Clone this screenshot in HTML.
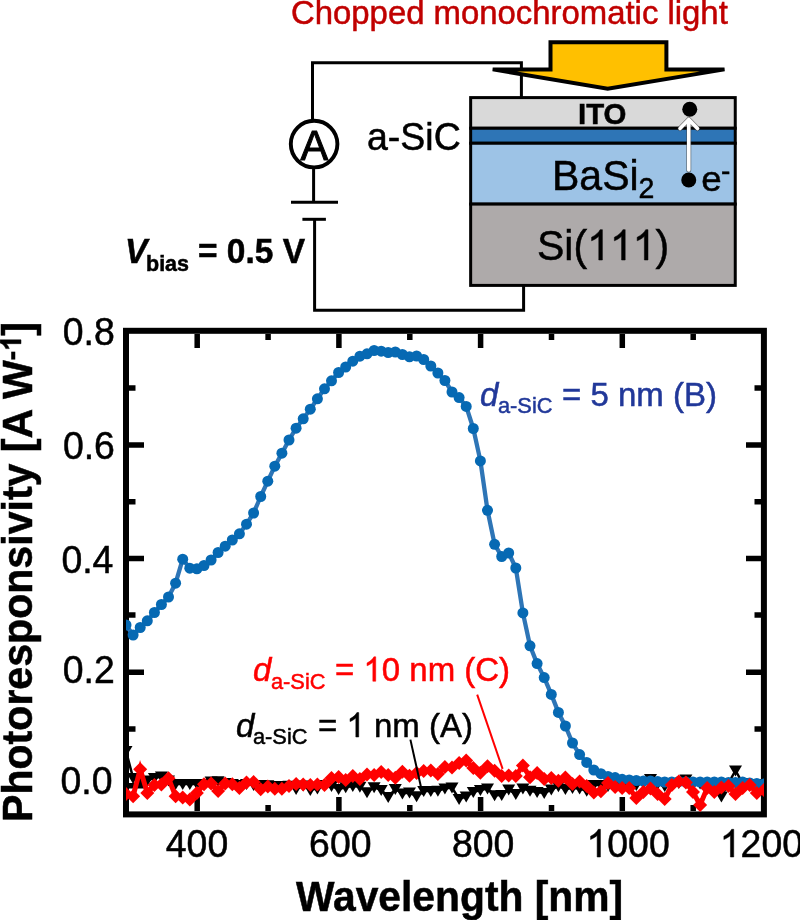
<!DOCTYPE html>
<html><head><meta charset="utf-8">
<style>
html,body{margin:0;padding:0;background:#fff;}
body{width:800px;height:920px;overflow:hidden;}
svg{display:block;will-change:transform;}
text{font-family:"Liberation Sans",sans-serif;stroke-width:0.5px;}
</style></head>
<body>
<svg width="800" height="920" viewBox="0 0 800 920" stroke-width="0">
<text id="t_title" transform="translate(291 24.4) scale(1 1.03)" font-size="32.9" fill="#C00000" stroke="#C00000">Chopped monochromatic light</text>

<g id="g_circuit">
<g fill="none" stroke="#000" stroke-width="3">
<path d="M312.5 119 V62.7 H521.4 V97"/>
<path d="M313.6 169 V202.3"/>
<path d="M291 202.3 H338"/>
<path d="M302.4 219.3 H325.9"/>
<path d="M314.6 219.3 V310.25 H523.6 V285"/>
</g>
<circle cx="314.1" cy="144.1" r="23.3" fill="none" stroke="#000" stroke-width="3.9"/>
</g>
<text id="t_A" transform="translate(314.25 159.5) scale(1 1.03)" font-size="41.5" text-anchor="middle" stroke="#000" style="stroke-width:1px">A</text>
<text id="t_asic" transform="translate(367 149.6) scale(1 1.03)" font-size="37.5" stroke="#000">a-SiC</text>

<g id="t_vbias">
<text transform="translate(125 263.1) scale(1 1.03)" font-size="33.5" font-weight="bold" font-style="italic" stroke="#000">V</text>
<text transform="translate(146 270.6) scale(1 1.03)" font-size="21.5" font-weight="bold" stroke="#000">bias</text>
<text transform="translate(198 263.1) scale(1 1.03)" font-size="33.5" font-weight="bold" stroke="#000">= 0.5 V</text>
</g>

<g id="g_device">
<rect x="470.65" y="97.6" width="264.6" height="30.65" fill="#D9D9D9" stroke="#000" stroke-width="3"/>
<rect x="470.65" y="128.25" width="264.6" height="15" fill="#2E75B6" stroke="#000" stroke-width="3"/>
<rect x="470.65" y="143.25" width="264.6" height="60.85" fill="#9DC3E6" stroke="#000" stroke-width="3"/>
<rect x="470.65" y="204.1" width="264.6" height="81.3" fill="#AEAAAA" stroke="#000" stroke-width="3"/>
<circle cx="689.75" cy="109.2" r="7.5" fill="#000"/>
<circle cx="688.75" cy="180" r="7.5" fill="#000"/>
<path d="M688.75 170 V121 M680 128.5 L688.75 119.5 L697.5 128.5" fill="none" stroke="#333" stroke-width="5" stroke-linecap="round" stroke-linejoin="round" opacity="0.6"/>
<path d="M688.75 170 V121 M680 128.5 L688.75 119.5 L697.5 128.5" fill="none" stroke="#fff" stroke-width="3.6" stroke-linecap="round" stroke-linejoin="round"/>
</g>
<text id="t_ito" transform="translate(578 124) scale(1 1.03)" font-size="29.4" font-weight="bold" stroke="#000">ITO</text>
<text id="t_basi" transform="translate(552 189.5) scale(1 1.03)" font-size="41" stroke="#000">BaSi<tspan font-size="28.5" dy="8.5">2</tspan></text>
<text id="t_si" transform="translate(537 260) scale(1 1.03)" font-size="41" stroke="#000">Si(<tspan style="fill:none;stroke:none">1</tspan><tspan style="fill:none;stroke:none">1</tspan><tspan style="fill:none;stroke:none">1</tspan>)</text>
<g id="t_e"><text transform="translate(701.2 191) scale(1.05 1.0)" font-size="35" stroke="#000">e</text><text id="t_minus" transform="translate(721 180.2)" font-size="28" stroke="#000">-</text></g>

<path id="g_arrow" d="M550.5 42.3 H666.4 V69.4 H724.5 L607.7 88.7 L492.7 69.4 H550.5 Z" fill="#FFC000" stroke="#000" stroke-width="4" stroke-linejoin="miter" stroke-miterlimit="10"/>

<g id="g_frame">
<rect x="126" y="330.8" width="637.9" height="483.6" fill="none" stroke="#000" stroke-width="6"/>
<g stroke="#000" stroke-width="5.5">
<path d="M197.2 811 V797 M268.1 811 V805 M338.9 811 V797 M409.8 811 V805 M480.6 811 V797 M551.5 811 V805 M622.3 811 V797 M693.2 811 V805"/>
<path d="M197.2 334 V348 M268.1 334 V340 M338.9 334 V348 M409.8 334 V340 M480.6 334 V348 M551.5 334 V340 M622.3 334 V348 M693.2 334 V340"/>
<path d="M129 785.8 H144 M129 729 H135.5 M129 672.3 H144 M129 615.1 H135.5 M129 558.5 H144 M129 501.7 H135.5 M129 444.9 H144 M129 388 H135.5"/>
<path d="M761 785.8 H746 M761 729 H754.5 M761 672.3 H746 M761 615.1 H754.5 M761 558.5 H746 M761 501.7 H754.5 M761 444.9 H746 M761 388 H754.5"/>
</g>
</g>
<defs><clipPath id="pc"><rect x="126" y="331" width="638" height="483"/></clipPath></defs>
<g id="g_data" clip-path="url(#pc)">
<path d="M126 751 L133.1 778 L140.2 781 L147.3 780.4 L154.4 778 L161.4 776.5 L168.5 780.4 L175.6 784 L182.7 784 L189.8 784 L196.9 784 L204 784 L211.1 781.6 L218.1 781.3 L225.2 783 L232.3 784 L239.4 785 L246.5 784 L253.6 785 L260.7 785 L267.8 785.2 L274.8 786 L281.9 786 L289 785.8 L296.1 789 L303.2 785.6 L310.3 790 L317.4 788.4 L324.5 785 L331.5 786 L338.6 789 L345.7 787.2 L352.8 786 L359.9 786.7 L367 792.3 L374.1 787.2 L381.2 790 L388.2 797 L395.3 789 L402.4 793.5 L409.5 792.4 L416.6 796.3 L423.7 791 L430.8 791 L437.9 790.7 L444.9 788.4 L452 787.6 L459.1 799 L466.2 796.4 L473.3 792 L480.4 790 L487.5 788.5 L494.6 795.2 L501.7 795 L508.7 789.6 L515.8 794 L522.9 788.5 L530 790.8 L537.1 792 L544.2 793 L551.3 789.6 L558.4 786.2 L565.4 789 L572.5 788 L579.6 788.5 L586.7 790.8 L593.8 785 L600.9 785 L608 786 L615.1 786 L622.1 785 L629.2 786 L636.3 785 L643.4 783 L650.5 779 L657.6 784 L664.7 786 L671.8 784 L678.8 783 L685.9 779.5 L693 783.5 L700.1 783.5 L707.2 783.5 L714.3 783.5 L721.4 796.5 L728.5 783 L735.5 770.5 L742.6 783 L749.7 784 L756.8 784 L763.9 784" fill="none" stroke="#000" stroke-width="2.5" stroke-linejoin="round"/>
<g fill="#000"><path d="M119.5 746h13l-6.5 11z"/><path d="M126.6 773h13l-6.5 11z"/><path d="M133.7 776h13l-6.5 11z"/><path d="M140.8 775.4h13l-6.5 11z"/><path d="M147.9 773h13l-6.5 11z"/><path d="M154.9 771.5h13l-6.5 11z"/><path d="M162 775.4h13l-6.5 11z"/><path d="M169.1 779h13l-6.5 11z"/><path d="M176.2 779h13l-6.5 11z"/><path d="M183.3 779h13l-6.5 11z"/><path d="M190.4 779h13l-6.5 11z"/><path d="M197.5 779h13l-6.5 11z"/><path d="M204.6 776.6h13l-6.5 11z"/><path d="M211.6 776.3h13l-6.5 11z"/><path d="M218.7 778h13l-6.5 11z"/><path d="M225.8 779h13l-6.5 11z"/><path d="M232.9 780h13l-6.5 11z"/><path d="M240 779h13l-6.5 11z"/><path d="M247.1 780h13l-6.5 11z"/><path d="M254.2 780h13l-6.5 11z"/><path d="M261.3 780.3h13l-6.5 11z"/><path d="M268.3 781h13l-6.5 11z"/><path d="M275.4 781h13l-6.5 11z"/><path d="M282.5 780.8h13l-6.5 11z"/><path d="M289.6 784h13l-6.5 11z"/><path d="M296.7 780.6h13l-6.5 11z"/><path d="M303.8 785h13l-6.5 11z"/><path d="M310.9 783.4h13l-6.5 11z"/><path d="M318 780h13l-6.5 11z"/><path d="M325 781h13l-6.5 11z"/><path d="M332.1 784h13l-6.5 11z"/><path d="M339.2 782.3h13l-6.5 11z"/><path d="M346.3 781h13l-6.5 11z"/><path d="M353.4 781.8h13l-6.5 11z"/><path d="M360.5 787.3h13l-6.5 11z"/><path d="M367.6 782.3h13l-6.5 11z"/><path d="M374.7 785h13l-6.5 11z"/><path d="M381.7 792h13l-6.5 11z"/><path d="M388.8 784h13l-6.5 11z"/><path d="M395.9 788.5h13l-6.5 11z"/><path d="M403 787.4h13l-6.5 11z"/><path d="M410.1 791.3h13l-6.5 11z"/><path d="M417.2 786h13l-6.5 11z"/><path d="M424.3 786h13l-6.5 11z"/><path d="M431.4 785.8h13l-6.5 11z"/><path d="M438.4 783.4h13l-6.5 11z"/><path d="M445.5 782.6h13l-6.5 11z"/><path d="M452.6 794h13l-6.5 11z"/><path d="M459.7 791.4h13l-6.5 11z"/><path d="M466.8 787h13l-6.5 11z"/><path d="M473.9 785h13l-6.5 11z"/><path d="M481 783.5h13l-6.5 11z"/><path d="M488.1 790.3h13l-6.5 11z"/><path d="M495.2 790h13l-6.5 11z"/><path d="M502.2 784.6h13l-6.5 11z"/><path d="M509.3 789h13l-6.5 11z"/><path d="M516.4 783.5h13l-6.5 11z"/><path d="M523.5 785.8h13l-6.5 11z"/><path d="M530.6 787h13l-6.5 11z"/><path d="M537.7 788h13l-6.5 11z"/><path d="M544.8 784.6h13l-6.5 11z"/><path d="M551.9 781.3h13l-6.5 11z"/><path d="M558.9 784h13l-6.5 11z"/><path d="M566 783h13l-6.5 11z"/><path d="M573.1 783.5h13l-6.5 11z"/><path d="M580.2 785.8h13l-6.5 11z"/><path d="M587.3 780h13l-6.5 11z"/><path d="M594.4 780h13l-6.5 11z"/><path d="M601.5 781h13l-6.5 11z"/><path d="M608.6 781h13l-6.5 11z"/><path d="M615.6 780h13l-6.5 11z"/><path d="M622.7 781h13l-6.5 11z"/><path d="M629.8 780h13l-6.5 11z"/><path d="M636.9 778h13l-6.5 11z"/><path d="M644 774h13l-6.5 11z"/><path d="M651.1 779h13l-6.5 11z"/><path d="M658.2 781h13l-6.5 11z"/><path d="M665.3 779h13l-6.5 11z"/><path d="M672.3 778h13l-6.5 11z"/><path d="M679.4 774.5h13l-6.5 11z"/><path d="M686.5 778.5h13l-6.5 11z"/><path d="M693.6 778.5h13l-6.5 11z"/><path d="M700.7 778.5h13l-6.5 11z"/><path d="M707.8 778.5h13l-6.5 11z"/><path d="M714.9 791.5h13l-6.5 11z"/><path d="M722 778h13l-6.5 11z"/><path d="M729 765.5h13l-6.5 11z"/><path d="M736.1 778h13l-6.5 11z"/><path d="M743.2 779h13l-6.5 11z"/><path d="M750.3 779h13l-6.5 11z"/><path d="M757.4 779h13l-6.5 11z"/></g>
<path d="M126 625 L133.1 635 L140.2 627.5 L147.3 620.8 L154.4 612.5 L161.4 604.5 L168.5 597 L175.6 583.2 L182.7 559.2 L189.8 568.2 L196.9 568.8 L204 565.5 L211.1 560 L218.1 552.5 L225.2 546.2 L232.3 540 L239.4 533.8 L246.5 524.2 L253.6 513 L260.7 496.5 L267.8 481.2 L274.8 466.2 L281.9 453.2 L289 440 L296.1 428.2 L303.2 418.8 L310.3 409.2 L317.4 398.8 L324.5 388.8 L331.5 380.8 L338.6 372.5 L345.7 367 L352.8 361.2 L359.9 356.2 L367 353.8 L374.1 350.5 L381.2 351.2 L388.2 352.5 L395.3 352 L402.4 354.5 L409.5 356.8 L416.6 356 L423.7 359.5 L430.8 366 L437.9 373 L444.9 380.5 L452 392 L459.1 397.6 L466.2 406.4 L473.3 428.5 L480.4 460.9 L487.5 510.3 L494.6 544.3 L501.7 556.5 L508.7 553 L515.8 568 L522.9 612.9 L530 645.8 L537.1 663.6 L544.2 677.6 L551.3 694.4 L558.4 712.4 L565.4 726 L572.5 743 L579.6 754.6 L586.7 762.4 L593.8 770 L600.9 773.7 L608 776.5 L615.1 777.6 L622.1 779.3 L629.2 779.9 L636.3 780.5 L643.4 781 L650.5 781 L657.6 781.5 L664.7 782 L671.8 782 L678.8 781.5 L685.9 782 L693 782 L700.1 782 L707.2 782 L714.3 782 L721.4 782 L728.5 782.5 L735.5 782.5 L742.6 782 L749.7 783 L756.8 783.5 L763.9 784" fill="none" stroke="#2E75B6" stroke-width="4.3" stroke-linejoin="round"/>
<g fill="#0669B3"><circle cx="126" cy="625" r="5.5"/><circle cx="133.1" cy="635" r="5.5"/><circle cx="140.2" cy="627.5" r="5.5"/><circle cx="147.3" cy="620.8" r="5.5"/><circle cx="154.4" cy="612.5" r="5.5"/><circle cx="161.4" cy="604.5" r="5.5"/><circle cx="168.5" cy="597" r="5.5"/><circle cx="175.6" cy="583.2" r="5.5"/><circle cx="182.7" cy="559.2" r="5.5"/><circle cx="189.8" cy="568.2" r="5.5"/><circle cx="196.9" cy="568.8" r="5.5"/><circle cx="204" cy="565.5" r="5.5"/><circle cx="211.1" cy="560" r="5.5"/><circle cx="218.1" cy="552.5" r="5.5"/><circle cx="225.2" cy="546.2" r="5.5"/><circle cx="232.3" cy="540" r="5.5"/><circle cx="239.4" cy="533.8" r="5.5"/><circle cx="246.5" cy="524.2" r="5.5"/><circle cx="253.6" cy="513" r="5.5"/><circle cx="260.7" cy="496.5" r="5.5"/><circle cx="267.8" cy="481.2" r="5.5"/><circle cx="274.8" cy="466.2" r="5.5"/><circle cx="281.9" cy="453.2" r="5.5"/><circle cx="289" cy="440" r="5.5"/><circle cx="296.1" cy="428.2" r="5.5"/><circle cx="303.2" cy="418.8" r="5.5"/><circle cx="310.3" cy="409.2" r="5.5"/><circle cx="317.4" cy="398.8" r="5.5"/><circle cx="324.5" cy="388.8" r="5.5"/><circle cx="331.5" cy="380.8" r="5.5"/><circle cx="338.6" cy="372.5" r="5.5"/><circle cx="345.7" cy="367" r="5.5"/><circle cx="352.8" cy="361.2" r="5.5"/><circle cx="359.9" cy="356.2" r="5.5"/><circle cx="367" cy="353.8" r="5.5"/><circle cx="374.1" cy="350.5" r="5.5"/><circle cx="381.2" cy="351.2" r="5.5"/><circle cx="388.2" cy="352.5" r="5.5"/><circle cx="395.3" cy="352" r="5.5"/><circle cx="402.4" cy="354.5" r="5.5"/><circle cx="409.5" cy="356.8" r="5.5"/><circle cx="416.6" cy="356" r="5.5"/><circle cx="423.7" cy="359.5" r="5.5"/><circle cx="430.8" cy="366" r="5.5"/><circle cx="437.9" cy="373" r="5.5"/><circle cx="444.9" cy="380.5" r="5.5"/><circle cx="452" cy="392" r="5.5"/><circle cx="459.1" cy="397.6" r="5.5"/><circle cx="466.2" cy="406.4" r="5.5"/><circle cx="473.3" cy="428.5" r="5.5"/><circle cx="480.4" cy="460.9" r="5.5"/><circle cx="487.5" cy="510.3" r="5.5"/><circle cx="494.6" cy="544.3" r="5.5"/><circle cx="501.7" cy="556.5" r="5.5"/><circle cx="508.7" cy="553" r="5.5"/><circle cx="515.8" cy="568" r="5.5"/><circle cx="522.9" cy="612.9" r="5.5"/><circle cx="530" cy="645.8" r="5.5"/><circle cx="537.1" cy="663.6" r="5.5"/><circle cx="544.2" cy="677.6" r="5.5"/><circle cx="551.3" cy="694.4" r="5.5"/><circle cx="558.4" cy="712.4" r="5.5"/><circle cx="565.4" cy="726" r="5.5"/><circle cx="572.5" cy="743" r="5.5"/><circle cx="579.6" cy="754.6" r="5.5"/><circle cx="586.7" cy="762.4" r="5.5"/><circle cx="593.8" cy="770" r="5.5"/><circle cx="600.9" cy="773.7" r="5.5"/><circle cx="608" cy="776.5" r="5.5"/><circle cx="615.1" cy="777.6" r="5.5"/><circle cx="622.1" cy="779.3" r="5.5"/><circle cx="629.2" cy="779.9" r="5.5"/><circle cx="636.3" cy="780.5" r="5.5"/><circle cx="643.4" cy="781" r="5.5"/><circle cx="650.5" cy="781" r="5.5"/><circle cx="657.6" cy="781.5" r="5.5"/><circle cx="664.7" cy="782" r="5.5"/><circle cx="671.8" cy="782" r="5.5"/><circle cx="678.8" cy="781.5" r="5.5"/><circle cx="685.9" cy="782" r="5.5"/><circle cx="693" cy="782" r="5.5"/><circle cx="700.1" cy="782" r="5.5"/><circle cx="707.2" cy="782" r="5.5"/><circle cx="714.3" cy="782" r="5.5"/><circle cx="721.4" cy="782" r="5.5"/><circle cx="728.5" cy="782.5" r="5.5"/><circle cx="735.5" cy="782.5" r="5.5"/><circle cx="742.6" cy="782" r="5.5"/><circle cx="749.7" cy="783" r="5.5"/><circle cx="756.8" cy="783.5" r="5.5"/><circle cx="763.9" cy="784" r="5.5"/></g>
<path d="M126 794 L133.1 796.2 L140.2 769.2 L147.3 792.9 L154.4 785 L161.4 784.4 L168.5 778.2 L175.6 796.2 L182.7 797.4 L189.8 799.6 L196.9 792.9 L204 784.3 L211.1 783.5 L218.1 791 L225.2 783.6 L232.3 784.2 L239.4 788.1 L246.5 782.5 L253.6 782 L260.7 789.2 L267.8 786.4 L274.8 788.7 L281.9 788.7 L289 786 L296.1 784 L303.2 784.6 L310.3 785 L317.4 784.6 L324.5 785 L331.5 778 L338.6 777 L345.7 780 L352.8 776 L359.9 779 L367 774.5 L374.1 775 L381.2 772 L388.2 775 L395.3 777.8 L402.4 771.8 L409.5 775.7 L416.6 773 L423.7 771 L430.8 770.6 L437.9 774 L444.9 767 L452 767.6 L459.1 763 L466.2 760.6 L473.3 768 L480.4 772.8 L487.5 766.2 L494.6 770.7 L501.7 776 L508.7 775.6 L515.8 776 L522.9 765.6 L530 777.2 L537.1 772.9 L544.2 779 L551.3 778 L558.4 780.8 L565.4 777.4 L572.5 784 L579.6 781.4 L586.7 786 L593.8 792.4 L600.9 791.3 L608 783 L615.1 787 L622.1 788 L629.2 788 L636.3 798 L643.4 792 L650.5 788.5 L657.6 794 L664.7 799 L671.8 785 L678.8 781.5 L685.9 782.5 L693 792 L700.1 805 L707.2 788 L714.3 792 L721.4 787.5 L728.5 786 L735.5 794 L742.6 788 L749.7 785 L756.8 793 L763.9 790" fill="none" stroke="#FF0000" stroke-width="5" stroke-linejoin="miter"/>
<g fill="#FF0000"><path d="M126 787l7 7l-7 7l-7 -7z"/><path d="M133.1 789.2l7 7l-7 7l-7 -7z"/><path d="M140.2 762.2l7 7l-7 7l-7 -7z"/><path d="M147.3 785.9l7 7l-7 7l-7 -7z"/><path d="M154.4 778l7 7l-7 7l-7 -7z"/><path d="M161.4 777.4l7 7l-7 7l-7 -7z"/><path d="M168.5 771.2l7 7l-7 7l-7 -7z"/><path d="M175.6 789.2l7 7l-7 7l-7 -7z"/><path d="M182.7 790.4l7 7l-7 7l-7 -7z"/><path d="M189.8 792.6l7 7l-7 7l-7 -7z"/><path d="M196.9 785.9l7 7l-7 7l-7 -7z"/><path d="M204 777.3l7 7l-7 7l-7 -7z"/><path d="M211.1 776.5l7 7l-7 7l-7 -7z"/><path d="M218.1 784l7 7l-7 7l-7 -7z"/><path d="M225.2 776.6l7 7l-7 7l-7 -7z"/><path d="M232.3 777.2l7 7l-7 7l-7 -7z"/><path d="M239.4 781.1l7 7l-7 7l-7 -7z"/><path d="M246.5 775.5l7 7l-7 7l-7 -7z"/><path d="M253.6 775l7 7l-7 7l-7 -7z"/><path d="M260.7 782.2l7 7l-7 7l-7 -7z"/><path d="M267.8 779.4l7 7l-7 7l-7 -7z"/><path d="M274.8 781.7l7 7l-7 7l-7 -7z"/><path d="M281.9 781.7l7 7l-7 7l-7 -7z"/><path d="M289 779l7 7l-7 7l-7 -7z"/><path d="M296.1 777l7 7l-7 7l-7 -7z"/><path d="M303.2 777.6l7 7l-7 7l-7 -7z"/><path d="M310.3 778l7 7l-7 7l-7 -7z"/><path d="M317.4 777.6l7 7l-7 7l-7 -7z"/><path d="M324.5 778l7 7l-7 7l-7 -7z"/><path d="M331.5 771l7 7l-7 7l-7 -7z"/><path d="M338.6 770l7 7l-7 7l-7 -7z"/><path d="M345.7 773l7 7l-7 7l-7 -7z"/><path d="M352.8 769l7 7l-7 7l-7 -7z"/><path d="M359.9 772l7 7l-7 7l-7 -7z"/><path d="M367 767.5l7 7l-7 7l-7 -7z"/><path d="M374.1 768l7 7l-7 7l-7 -7z"/><path d="M381.2 765l7 7l-7 7l-7 -7z"/><path d="M388.2 768l7 7l-7 7l-7 -7z"/><path d="M395.3 770.8l7 7l-7 7l-7 -7z"/><path d="M402.4 764.8l7 7l-7 7l-7 -7z"/><path d="M409.5 768.7l7 7l-7 7l-7 -7z"/><path d="M416.6 766l7 7l-7 7l-7 -7z"/><path d="M423.7 764l7 7l-7 7l-7 -7z"/><path d="M430.8 763.6l7 7l-7 7l-7 -7z"/><path d="M437.9 767l7 7l-7 7l-7 -7z"/><path d="M444.9 760l7 7l-7 7l-7 -7z"/><path d="M452 760.6l7 7l-7 7l-7 -7z"/><path d="M459.1 756l7 7l-7 7l-7 -7z"/><path d="M466.2 753.6l7 7l-7 7l-7 -7z"/><path d="M473.3 761l7 7l-7 7l-7 -7z"/><path d="M480.4 765.8l7 7l-7 7l-7 -7z"/><path d="M487.5 759.2l7 7l-7 7l-7 -7z"/><path d="M494.6 763.7l7 7l-7 7l-7 -7z"/><path d="M501.7 769l7 7l-7 7l-7 -7z"/><path d="M508.7 768.6l7 7l-7 7l-7 -7z"/><path d="M515.8 769l7 7l-7 7l-7 -7z"/><path d="M522.9 758.6l7 7l-7 7l-7 -7z"/><path d="M530 770.2l7 7l-7 7l-7 -7z"/><path d="M537.1 765.9l7 7l-7 7l-7 -7z"/><path d="M544.2 772l7 7l-7 7l-7 -7z"/><path d="M551.3 771l7 7l-7 7l-7 -7z"/><path d="M558.4 773.8l7 7l-7 7l-7 -7z"/><path d="M565.4 770.4l7 7l-7 7l-7 -7z"/><path d="M572.5 777l7 7l-7 7l-7 -7z"/><path d="M579.6 774.4l7 7l-7 7l-7 -7z"/><path d="M586.7 779l7 7l-7 7l-7 -7z"/><path d="M593.8 785.4l7 7l-7 7l-7 -7z"/><path d="M600.9 784.3l7 7l-7 7l-7 -7z"/><path d="M608 776l7 7l-7 7l-7 -7z"/><path d="M615.1 780l7 7l-7 7l-7 -7z"/><path d="M622.1 781l7 7l-7 7l-7 -7z"/><path d="M629.2 781l7 7l-7 7l-7 -7z"/><path d="M636.3 791l7 7l-7 7l-7 -7z"/><path d="M643.4 785l7 7l-7 7l-7 -7z"/><path d="M650.5 781.5l7 7l-7 7l-7 -7z"/><path d="M657.6 787l7 7l-7 7l-7 -7z"/><path d="M664.7 792l7 7l-7 7l-7 -7z"/><path d="M671.8 778l7 7l-7 7l-7 -7z"/><path d="M678.8 774.5l7 7l-7 7l-7 -7z"/><path d="M685.9 775.5l7 7l-7 7l-7 -7z"/><path d="M693 785l7 7l-7 7l-7 -7z"/><path d="M700.1 798l7 7l-7 7l-7 -7z"/><path d="M707.2 781l7 7l-7 7l-7 -7z"/><path d="M714.3 785l7 7l-7 7l-7 -7z"/><path d="M721.4 780.5l7 7l-7 7l-7 -7z"/><path d="M728.5 779l7 7l-7 7l-7 -7z"/><path d="M735.5 787l7 7l-7 7l-7 -7z"/><path d="M742.6 781l7 7l-7 7l-7 -7z"/><path d="M749.7 778l7 7l-7 7l-7 -7z"/><path d="M756.8 786l7 7l-7 7l-7 -7z"/><path d="M763.9 783l7 7l-7 7l-7 -7z"/></g>
</g>



<g font-size="37.4" text-anchor="end">
<text id="t_y8" transform="translate(114.7 345) scale(1 1.03)" stroke="#000">0.8</text>
<text id="t_y6" transform="translate(114.9 458.7) scale(1 1.03)" stroke="#000">0.6</text>
<text id="t_y4" transform="translate(113.4 573.2) scale(1 1.03)" stroke="#000">0.4</text>
<text id="t_y2" transform="translate(114.7 683.2) scale(1 1.03)" stroke="#000">0.2</text>
<text id="t_y0" transform="translate(112.5 793.7) scale(1 1.03)" stroke="#000">0.0</text>
</g>
<g font-size="37.4" text-anchor="middle">
<text id="t_x4" transform="translate(197 857) scale(1 1.03)" stroke="#000">400</text>
<text id="t_x6" transform="translate(340.3 857) scale(1 1.03)" stroke="#000">600</text>
<text id="t_x8" transform="translate(483.1 857) scale(1 1.03)" stroke="#000">800</text>
<text id="t_x10" transform="translate(628.1 857) scale(1 1.03)" stroke="#000"><tspan style="fill:none;stroke:none">1</tspan>000</text>
<text id="t_x12" transform="translate(761.4 857) scale(1 1.03)" stroke="#000"><tspan style="fill:none;stroke:none">1</tspan>200</text>
</g>
<text id="t_wl" transform="translate(296 911.3) scale(1 1.03)" font-size="40.8" font-weight="bold" stroke="#000">Wavelength [nm]</text>
<text id="t_yt" transform="translate(31.7 822) rotate(-90) scale(1 1.02)" font-size="41.1" font-weight="bold" stroke="#000">Photoresponsivity [A W<tspan font-size="28.5" dy="-10.5">-<tspan style="fill:none;stroke:none">1</tspan></tspan><tspan dy="10.5" dx="-1">]</tspan></text>

<g id="t_lb" fill="#213899" stroke="#213899">
<text transform="translate(480 405.8) scale(1 1.03)" font-size="33" font-style="italic">d</text>
<text transform="translate(498 412.8) scale(1 1.03)" font-size="21.8">a-SiC</text>
<text transform="translate(562 405.8) scale(1 1.03)" font-size="33">= 5 nm (B)</text>
</g>
<g id="t_lr" fill="#FF0000" stroke="#FF0000">
<text transform="translate(253 681.25) scale(1 1.03)" font-size="33" font-style="italic">d</text>
<text transform="translate(271 689) scale(1 1.03)" font-size="21.8">a-SiC</text>
<text transform="translate(335 681.25) scale(1 1.03)" font-size="33">= <tspan style="fill:none;stroke:none">1</tspan>0 nm (C)</text>
</g>
<g id="t_lk" fill="#000" stroke="#000">
<text transform="translate(236 737) scale(1 1.03)" font-size="33" font-style="italic">d</text>
<text transform="translate(253 743.5) scale(1 1.03)" font-size="21.8">a-SiC</text>
<text transform="translate(318 737) scale(1 1.03)" font-size="33">= <tspan style="fill:none;stroke:none">1</tspan> nm (A)</text>
</g>
<path d="M477.2 694.6 L502.6 768.9" stroke="#FF0000" stroke-width="2"/>
<path d="M410.4 739.6 L422.7 794.8" stroke="#000" stroke-width="2"/>
<g id="g_ones">
<path transform="translate(537 260) scale(1 1.03) translate(50.11 0.00) scale(0.02002 -0.02002)" d="M763 0H583V1147Q518 1085 412 1023T223 930V1104Q375 1175 489 1276T650 1472H763V0Z" fill="#000" stroke="#000" stroke-width="25.0"/>
<path transform="translate(537 260) scale(1 1.03) translate(72.91 0.00) scale(0.02002 -0.02002)" d="M763 0H583V1147Q518 1085 412 1023T223 930V1104Q375 1175 489 1276T650 1472H763V0Z" fill="#000" stroke="#000" stroke-width="25.0"/>
<path transform="translate(537 260) scale(1 1.03) translate(95.71 0.00) scale(0.02002 -0.02002)" d="M763 0H583V1147Q518 1085 412 1023T223 930V1104Q375 1175 489 1276T650 1472H763V0Z" fill="#000" stroke="#000" stroke-width="25.0"/>
<path transform="translate(628.1 857) scale(1 1.03) translate(-41.60 0.00) scale(0.01826 -0.01826)" d="M763 0H583V1147Q518 1085 412 1023T223 930V1104Q375 1175 489 1276T650 1472H763V0Z" fill="#000" stroke="#000" stroke-width="27.4"/>
<path transform="translate(761.4 857) scale(1 1.03) translate(-41.60 0.00) scale(0.01826 -0.01826)" d="M763 0H583V1147Q518 1085 412 1023T223 930V1104Q375 1175 489 1276T650 1472H763V0Z" fill="#000" stroke="#000" stroke-width="27.4"/>
<path transform="translate(335 681.25) scale(1 1.03) translate(28.44 0.00) scale(0.01611 -0.01611)" d="M763 0H583V1147Q518 1085 412 1023T223 930V1104Q375 1175 489 1276T650 1472H763V0Z" fill="#FF0000" stroke="#FF0000" stroke-width="31.0"/>
<path transform="translate(318 737) scale(1 1.03) translate(28.44 0.00) scale(0.01611 -0.01611)" d="M763 0H583V1147Q518 1085 412 1023T223 930V1104Q375 1175 489 1276T650 1472H763V0Z" fill="#000" stroke="#000" stroke-width="31.0"/>
<path transform="translate(31.7 822) rotate(-90) scale(1 1.02) translate(470.73 -10.5) scale(0.01392 -0.01392)" d="M819 0H545V1033Q395 893 191 826V1075Q298 1110 424 1208T597 1472H819V0Z" fill="#000" stroke="#000" stroke-width="35.9"/>
</g>
</svg>
</body></html>
